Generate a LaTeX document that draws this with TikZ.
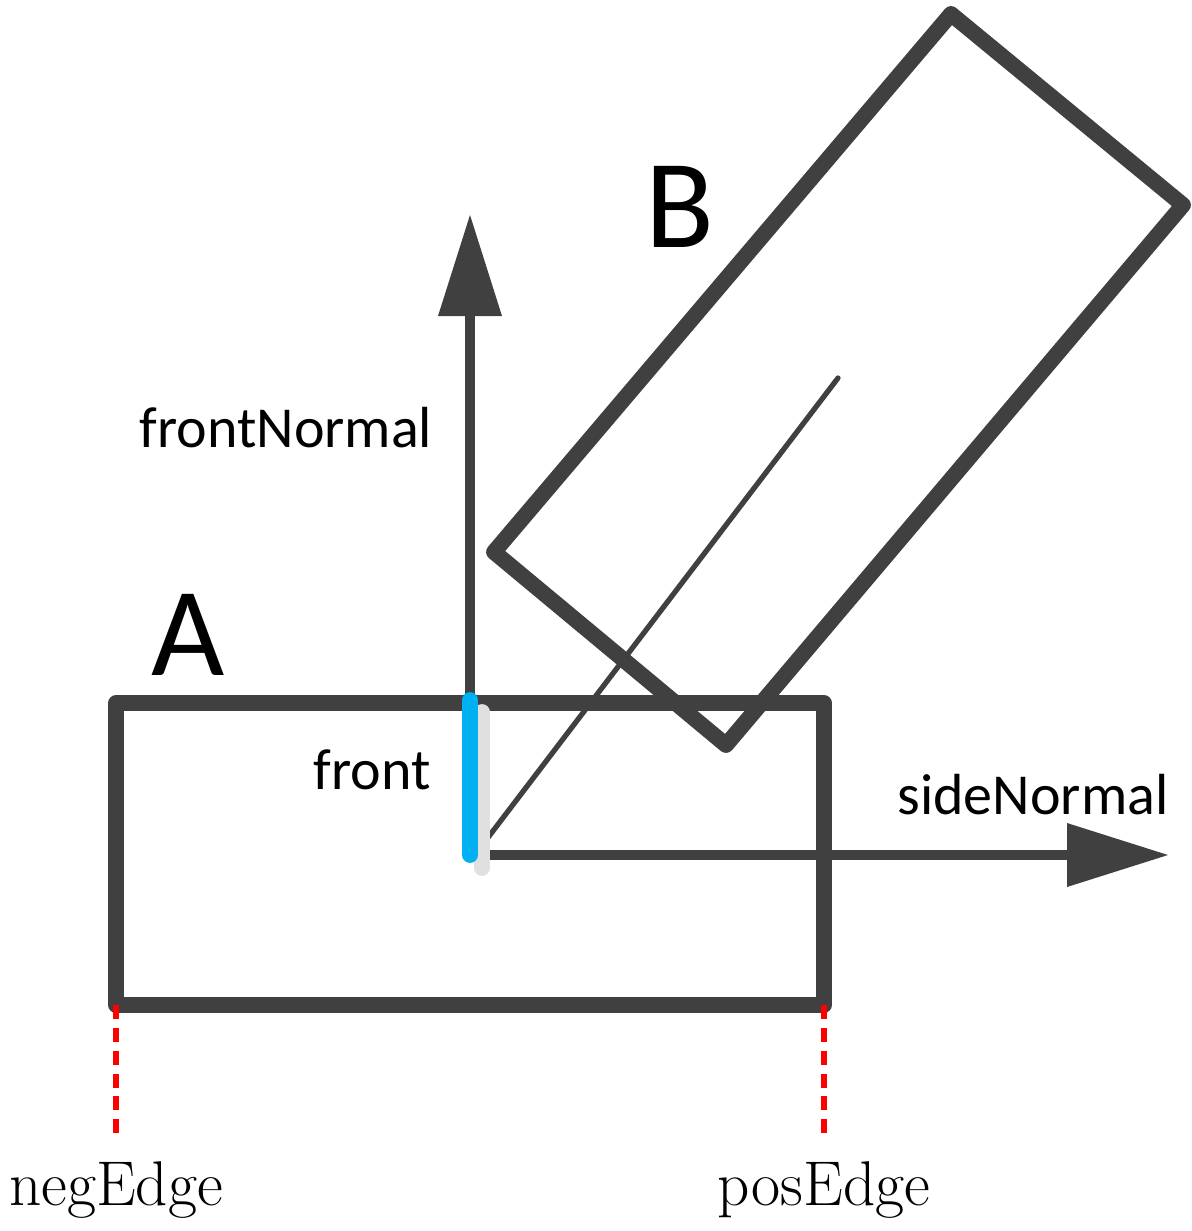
\documentclass[tikz,border=0pt]{standalone}
\usepackage{fontspec}
\newfontfamily\sans{Carlito}
\begin{document}
\begin{tikzpicture}[x=0.02cm,y=-0.02cm,
  box/.style={draw=dk,line width=9pt,line join=round},
  lbl/.style={font=\sans\fontsize{33}{38}\selectfont,text=black,inner sep=0},
  big/.style={font=\sans\fontsize{72}{80}\selectfont,text=black,inner sep=0},
  edge/.style={font=\fontsize{36}{40}\selectfont,inner sep=0},
  red/.style={draw=red,line width=3.4pt,dash pattern=on 8pt off 5pt}]
\definecolor{dk}{HTML}{404040}
\definecolor{bl}{HTML}{00B0F0}
\useasboundingbox (0,0) rectangle (1191,1231);
\coordinate (o) at (470,855);
\coordinate (nt) at (470,215);
\coordinate (st) at (1168,855);
\coordinate (nA) at (116,1005);
\coordinate (pA) at (824,1005);
\coordinate (nB) at (116,1142);
\coordinate (pB) at (824,1142);
\draw[box] (116,703) rectangle (824,1005);
\draw[box] (951,14) -- (1183,205) -- (726,745) -- (494,552) -- cycle;
\draw[dk,line width=3pt,line cap=round] (480,848) -- (838,378);
\draw[dk,line width=5.5pt] (o) -- (470,300);
\fill[dk] (nt) -- (438,316) -- (502,316) -- cycle;
\draw[dk,line width=5.5pt] (o) -- (1080,855);
\fill[dk] (st) -- (1067,823) -- (1067,887) -- cycle;
\draw[black!12,line width=9pt,line cap=round] (482,712) -- (482,868);
\draw[bl,line width=9pt,line cap=round] (470,700) -- (o);
\draw[red] (nA) -- (nB);
\draw[red] (pA) -- (pB);
\node[big] (A) at (188,635) {A};
\node[big] (B) at (680,207) {B};
\node[lbl] (fn) at (286,428) {frontNormal};
\node[lbl] (fr) at (372,770) {front};
\node[lbl] (sn) at (1033,795) {sideNormal};
\node[edge] (ne) at (116,1190) {negEdge};
\node[edge] (pe) at (824,1190) {posEdge};
\end{tikzpicture}
\end{document}
